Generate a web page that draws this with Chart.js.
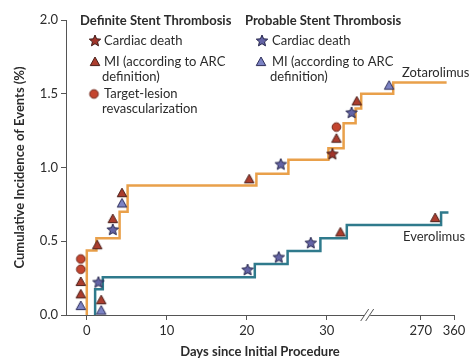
<!DOCTYPE html>
<html><head><meta charset="utf-8">
<script src="https://cdn.jsdelivr.net/npm/chart.js@4/dist/chart.umd.min.js"></script>
<style>html,body{margin:0;padding:0;background:#fff}#wrap{width:474px;height:364px;position:relative}</style>
</head><body><div id="wrap"><canvas id="c" width="474" height="364"></canvas></div>
<script>
// ---- data (days since procedure, cumulative incidence %) ----
const zotSteps = [[0,0],[0,0.437],[1.2,0.52],[4.1,0.70],[5.1,0.878],[21.2,0.957],[25.2,1.052],[30.2,1.13],[32.1,1.30],[33.6,1.40],[34.3,1.50],[150,1.577],[340,1.577]];
const eveSteps = [[1.04,0],[1.04,0.174],[2.0,0.256],[21.0,0.346],[25.1,0.434],[29.2,0.52],[32.5,0.61],[325,0.695],[345,0.695]];
const defDeath = [[30.7,1.09]];
const defMI = [[-0.75,0.224],[-0.75,0.14],[1.3,0.473],[3.25,0.65],[4.4,0.826],[20.3,0.92],[31.2,1.195],[33.75,1.448],[1.8,0.10],[31.7,0.56],[309,0.657]];
const defTLR = [[-0.75,0.38],[-0.75,0.31],[31.2,1.274]];
const probDeath = [[1.45,0.22],[3.25,0.577],[24.25,1.02],[33.1,1.37],[20.1,0.305],[24.0,0.39],[28.0,0.487]];
const probMI = [[-0.75,0.061],[1.8,0.03],[4.4,0.756],[132,1.555]];
const xTickDays = [0,10,20,30,270,360];
const xTickLabels = ['0','10','20','30','270','360'];
const yTicks = [0,0.5,1.0,1.5,2.0];

// broken axis: days -> display position
function tx(d){ if(d<=35) return d; if(d<=270) return 35+(d-35)*6.75/235; return 41.75+(d-270)*4.15/90; }
const pts = a => a.map(([d,v])=>({x:tx(d),y:v}));

const FONT = 'Lato';
const TXT = '#2b2b2b';
function marker(shape, fill, stroke, r){
  const s = Math.ceil(r*2+4); const c = document.createElement('canvas'); c.width=s; c.height=s;
  const g = c.getContext('2d'); const cx=s/2, cy=s/2; g.beginPath();
  if(shape==='star'){ for(let i=0;i<10;i++){ const rr = i%2? r*0.45 : r; const a = -Math.PI/2 + i*Math.PI/5; const px=cx+rr*Math.cos(a), py=cy+rr*Math.sin(a); i?g.lineTo(px,py):g.moveTo(px,py);} g.closePath(); }
  else if(shape==='tri'){ g.moveTo(cx,cy-r); g.lineTo(cx+r*0.95,cy+r*0.72); g.lineTo(cx-r*0.95,cy+r*0.72); g.closePath(); }
  else { g.arc(cx,cy,r,0,Math.PI*2); }
  g.fillStyle=fill; g.fill(); g.lineWidth=1; g.strokeStyle=stroke; g.stroke(); return c;
}
const mDefDeath = marker('star','#a1342a','#3d1a17',6);
const mDefMI = marker('tri','#ab3d2e','#4a1f1a',5);
const mDefTLR = marker('circle','#c4452f','#6a2418',4.3);
const mProbDeath = marker('star','#6464a6','#23234a',6);
const mProbMI = marker('tri','#7c83c4','#2e2e5a',5);

function scat(label, data, img){ return {type:'scatter', label, data:pts(data), pointStyle:img, pointRadius:5, showLine:false, clip:false, order:0}; }

const overlay = {
  id:'overlay',
  afterDraw(chart){
    const ctx = chart.ctx; const xs = chart.scales.x; const ys = chart.scales.y;
    // axis break
    const bx = xs.getPixelForValue(35.05), by = ys.bottom;
    ctx.save(); ctx.fillStyle='#fff'; ctx.fillRect(bx-3,by-2,6,4);
    ctx.strokeStyle='#555'; ctx.lineWidth=1;
    [-2.5,2.5].forEach(o=>{ ctx.beginPath(); ctx.moveTo(bx+o-4,by+6); ctx.lineTo(bx+o+4,by-6); ctx.stroke(); });
    // series labels
    ctx.fillStyle=TXT; ctx.font='13px '+FONT; ctx.textBaseline='middle'; ctx.textAlign='left';
    ctx.fillText('Zotarolimus', 402, 73);
    ctx.fillText('Everolimus', 403, 237);
    // legend
    ctx.font='bold 13px '+FONT;
    ctx.fillText('Definite Stent Thrombosis', 80, 21);
    ctx.fillText('Probable Stent Thrombosis', 245, 21);
    ctx.font='13px '+FONT;
    const item=(img,x,y,lines,tx0)=>{ ctx.drawImage(img, x-img.width/2, y-img.height/2); lines.forEach((t,i)=>ctx.fillText(t, i? tx0-2 : tx0, y+i*15)); };
    item(mDefDeath,95,41,['Cardiac death'],104);
    item(mDefMI,95,62,['MI (according to ARC','definition)'],104);
    item(mDefTLR,94,94,['Target-lesion','revascularization'],104);
    item(mProbDeath,262,41,['Cardiac death'],272);
    item(mProbMI,261,62,['MI (according to ARC','definition)'],272);
    ctx.restore();
  }
};

new Chart(document.getElementById('c'), {
  type:'line',
  data:{ datasets:[
    scat('Definite cardiac death', defDeath, mDefDeath),
    scat('Definite MI', defMI, mDefMI),
    scat('Definite TLR', defTLR, mDefTLR),
    scat('Probable cardiac death', probDeath, mProbDeath),
    scat('Probable MI', probMI, mProbMI),
    {label:'Zotarolimus', data:pts(zotSteps), borderColor:'#e9a04a', borderWidth:2.5, stepped:true, pointRadius:0, fill:false, clip:false, order:2},
    {label:'Everolimus', data:pts(eveSteps), borderColor:'#2f7a8c', borderWidth:2.5, stepped:true, pointRadius:0, fill:false, clip:false, order:2}
  ]},
  options:{
    responsive:false, animation:false, devicePixelRatio:1,
    layout:{padding:{top:20,right:20,left:0,bottom:0}},
    plugins:{legend:{display:false}, tooltip:{enabled:false}},
    scales:{
      x:{type:'linear', min:-2.6, max:45.9,
        afterBuildTicks(s){ s.ticks = xTickDays.map(d=>({value:tx(d)})); },
        afterFit(s){ s.height=49; },
        ticks:{autoSkip:false, maxRotation:0, padding:3, color:TXT, font:{family:FONT,size:13}, callback:(v,i)=>xTickLabels[i]},
        grid:{display:true, drawOnChartArea:false, drawTicks:true, tickLength:5, color:'#555'},
        border:{display:true, color:'#555', width:1},
        title:{display:true, text:'Days since Initial Procedure', color:TXT, font:{family:FONT,size:13,weight:'bold'}, padding:{top:0,bottom:4}}
      },
      y:{min:0, max:2,
        afterBuildTicks(s){ s.ticks = yTicks.map(v=>({value:v})); },
        afterFit(s){ s.width=66; },
        ticks:{padding:3, color:TXT, font:{family:FONT,size:13}, callback:v=>v.toFixed(1)},
        grid:{display:true, drawOnChartArea:false, drawTicks:true, tickLength:5, color:'#555'},
        border:{display:true, color:'#555', width:1},
        title:{display:true, text:'Cumulative Incidence of Events (%)', color:TXT, font:{family:FONT,size:13,weight:'bold'}, padding:{top:12,bottom:0}}
      }
    }
  },
  plugins:[overlay]
});
</script></body></html>
